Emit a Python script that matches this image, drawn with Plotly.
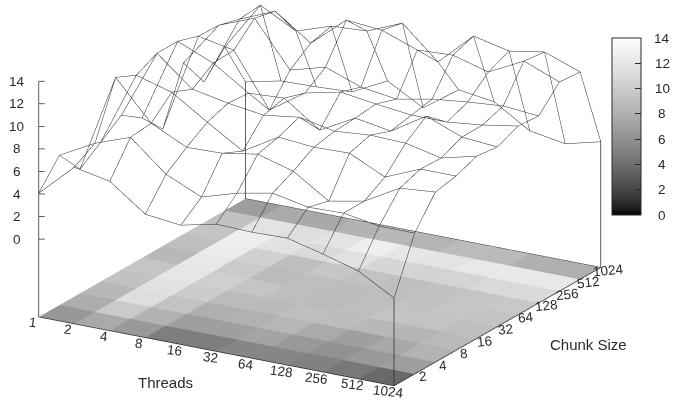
import numpy as np
import plotly.graph_objects as go

threads = [1, 2, 4, 8, 16, 32, 64, 128, 256, 512, 1024]
chunks = [1, 2, 4, 8, 16, 32, 64, 128, 256, 512, 1024]
chunk_labels = [2, 4, 8, 16, 32, 64, 128, 256, 512, 1024]
z_ticks = [0, 2, 4, 6, 8, 10, 12, 14]

# speed by thread count (one list per thread count, from chunk size 1 to 1024)
t1 = [4.07, 6.39, 4.11, 5.45, 6.80, 5.49, 3.47, 8.27, 5.54, 7.59, 3.45]
t2 = [6.98, 8.06, 12.86, 11.99, 12.89, 12.91, 12.31, 12.24, 11.73, 11.92, 4.15]
t4 = [6.35, 9.20, 9.40, 11.10, 10.32, 11.58, 11.68, 13.47, 13.04, 10.23, 4.23]
t8 = [4.04, 6.54, 7.88, 9.05, 9.69, 9.53, 6.98, 9.48, 10.82, 11.28, 4.40]
t16 = [3.68, 5.12, 7.96, 7.10, 9.24, 9.70, 9.10, 10.35, 13.47, 11.45, 5.98]
t32 = [4.38, 6.08, 8.49, 8.95, 9.67, 7.48, 9.80, 9.19, 13.19, 12.77, 4.20]
t64 = [4.28, 6.69, 7.59, 8.67, 9.04, 9.15, 9.35, 8.74, 12.04, 9.93, 6.41]
t128 = [4.36, 6.06, 5.55, 8.75, 9.30, 8.61, 8.98, 9.35, 12.20, 12.84, 5.96]
t256 = [3.56, 6.14, 6.16, 7.24, 9.20, 10.55, 8.97, 9.70, 11.31, 12.12, 4.00]
t512 = [2.66, 5.60, 7.92, 8.56, 8.49, 9.30, 9.32, 9.96, 12.89, 12.65, 3.46]
t1024 = [0.88, 5.59, 8.18, 8.55, 9.27, 9.03, 9.84, 9.68, 11.65, 11.49, 4.25]

Z = np.array([t1, t2, t4, t8, t16, t32, t64, t128, t256, t512, t1024])
X_POS = np.log2(threads)
Y_POS = np.log2(chunks)
BASE = -6.9
Z_BOTTOM = -7.2
Z_TOP = 14
INK = "#2a2a2a"
FONT = "Liberation Sans"
TICK_SIZE = 13.5
BAR_TOP = 38
BAR_LEN = 177


def gray(value):
    # gnuplot pm3d gray palette with gamma 1.5
    g = int(round(255 * (value / 14) ** (1 / 1.5)))
    return "rgb({0},{0},{0})".format(g)


scale = [[v, gray(14 * v)] for v in np.linspace(0, 1, 41)]

nx, ny = len(X_POS), len(Y_POS)
gx, gy = np.meshgrid(X_POS, Y_POS, indexing="ij")
vx, vy = gx.ravel(), gy.ravel()

# floor map: one flat cell per pair of neighbours, coloured by the corner mean
ti, tj, tk, cell = [], [], [], []
for a in range(nx - 1):
    for b in range(ny - 1):
        p = a * ny + b
        q = (a + 1) * ny + b
        r = (a + 1) * ny + b + 1
        s = a * ny + b + 1
        m = Z[a:a + 2, b:b + 2].mean()
        ti += [p, p]
        tj += [q, r]
        tk += [r, s]
        cell += [m, m]

floor = go.Mesh3d(
    x=vx, y=vy, z=np.full(vx.shape, BASE), i=ti, j=tj, k=tk,
    intensity=cell, intensitymode="cell", colorscale=scale, cmin=0, cmax=14,
    flatshading=True, hoverinfo="skip",
    lighting=dict(ambient=1, diffuse=0, specular=0, roughness=1, fresnel=0),
    colorbar=dict(
        x=612 / 680, xanchor="left", xpad=0, y=1 - BAR_TOP / 405, yanchor="top", ypad=0,
        len=BAR_LEN / 405, lenmode="fraction", thickness=29, thicknessmode="pixels",
        outlinewidth=1, outlinecolor=INK, tickvals=z_ticks, ticks="inside", ticklen=6,
        tickcolor=INK, showticklabels=False,
    ),
)

# wireframe
wx, wy, wz = [], [], []
for a in range(nx):
    wx += list(gx[a, :]) + [None]
    wy += list(gy[a, :]) + [None]
    wz += list(Z[a, :]) + [None]
for b in range(ny):
    wx += list(gx[:, b]) + [None]
    wy += list(gy[:, b]) + [None]
    wz += list(Z[:, b]) + [None]
wire = go.Scatter3d(x=wx, y=wy, z=wz, mode="lines", line=dict(color=INK, width=1),
                    hoverinfo="skip", showlegend=False)

# corner posts, floor border and the z axis tick marks
xa, xb = X_POS[0], X_POS[-1]
ya, yb = Y_POS[0], Y_POS[-1]
bx, by, bz = [], [], []
for (a, b) in [(0, 0), (nx - 1, 0), (nx - 1, ny - 1), (0, ny - 1)]:
    bx += [X_POS[a], X_POS[a], None]
    by += [Y_POS[b], Y_POS[b], None]
    bz += [BASE, Z_TOP if (a, b) == (0, 0) else Z[a, b], None]
for t in z_ticks:
    bx += [xa, xa + 0.126, None]
    by += [ya, ya + 0.074, None]
    bz += [t, t, None]
bx += [xa, xb, xb, xa]
by += [ya, ya, yb, yb]
bz += [BASE, BASE, BASE, BASE]
frame = go.Scatter3d(x=bx, y=by, z=bz, mode="lines", line=dict(color=INK, width=1.5),
                     hoverinfo="skip", showlegend=False)


def axis(rng):
    return dict(
        range=rng, title=dict(text=""), showticklabels=False, ticks="",
        showgrid=False, zeroline=False, showbackground=False, showspikes=False,
        showline=False,
    )


def label(text, x, y, z, dx, dy, angle):
    return dict(
        text=str(text), x=x, y=y, z=z, showarrow=False, xanchor="center", yanchor="middle",
        xshift=dx, yshift=-dy, textangle=angle,
        font=dict(family=FONT, size=TICK_SIZE, color=INK),
    )


tick_labels = (
    [label(t, np.log2(t), ya, BASE, -6, 6, 7) for t in threads]
    + [label(c, xb, np.log2(c), BASE, 8, 3, -6) for c in chunk_labels]
    + [label(t, xa, ya, t, -22, 0, 0) for t in z_ticks]
)

bar_labels = [
    dict(text=str(t), x=662 / 680, y=1 - (BAR_TOP + BAR_LEN * (1 - t / 14)) / 405,
         xref="paper", yref="paper", xanchor="center", yanchor="middle", showarrow=False,
         font=dict(family=FONT, size=TICK_SIZE, color=INK))
    for t in z_ticks
]

a_deg = np.radians(30.2)
sin_el = 0.333
cos_el = np.sqrt(1 - sin_el ** 2)
R = 2.0
rx, ry = np.cos(a_deg), np.sin(a_deg)
shift_right, shift_up = 0.100, -0.1385
cx, cy, cz = shift_right * rx, shift_right * ry, shift_up

fig = go.Figure([floor, wire, frame])
fig.update_layout(
    width=680, height=405, autosize=False, paper_bgcolor="white",
    margin=dict(l=0, r=0, t=0, b=0, autoexpand=False), showlegend=False,
    font=dict(family=FONT, size=TICK_SIZE, color=INK),
    scene=dict(
        domain=dict(x=[0, 1], y=[0, 1]),
        xaxis=axis([xa, xb]),
        yaxis=axis([ya, yb]),
        zaxis=axis([Z_BOTTOM, Z_TOP]),
        aspectmode="manual", aspectratio=dict(x=2.03, y=2.03, z=1.252),
        annotations=tick_labels,
        camera=dict(
            projection=dict(type="orthographic"), up=dict(x=0, y=0, z=1),
            center=dict(x=cx, y=cy, z=cz),
            eye=dict(x=cx + R * np.sin(a_deg) * cos_el, y=cy - R * np.cos(a_deg) * cos_el, z=cz + R * sin_el),
        ),
    ),
    annotations=[
        dict(text="Threads", x=165 / 680, y=1 - 382 / 405, xref="paper", yref="paper",
             xanchor="center", yanchor="middle", showarrow=False,
             font=dict(family=FONT, size=15, color=INK)),
        dict(text="Chunk Size", x=588 / 680, y=1 - 344 / 405, xref="paper", yref="paper",
             xanchor="center", yanchor="middle", showarrow=False,
             font=dict(family=FONT, size=15, color=INK)),
    ] + bar_labels,
)
fig.write_html("out.html", post_script="document.body.style.margin='0';",
               config={"displayModeBar": False})
